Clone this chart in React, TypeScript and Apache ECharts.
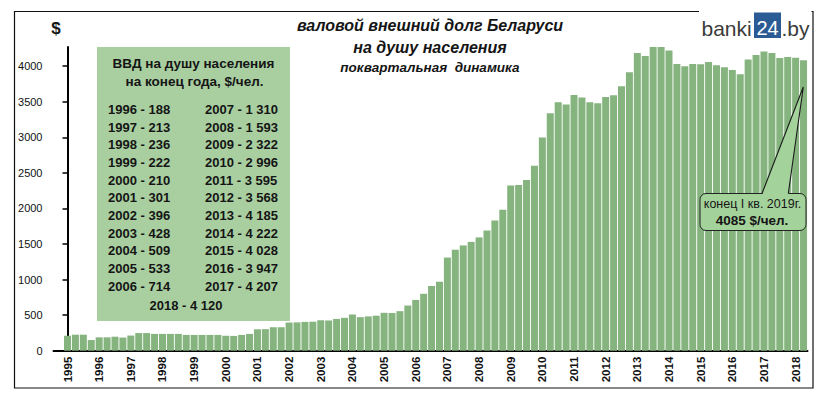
import React, { useEffect, useRef } from 'react';
import * as echarts from 'echarts';

// Year labels on the category positions (each label sits on the Q4 bar of that year)
const yearLabels = [
  '1995', '1996', '1997', '1998', '1999', '2000', '2001', '2002', '2003', '2004', '2005', '2006',
  '2007', '2008', '2009', '2010', '2011', '2012', '2013', '2014', '2015', '2016', '2017', '2018',
];

// Gross external debt per capita, $, quarterly from 1995 Q4 to 2019 Q1
const quarterValues = [
  210,
  225, 225, 150, 188,
  188, 197, 185, 213,
  248, 248, 236, 236,
  236, 236, 222, 222,
  222, 222, 222, 210,
  208, 222, 236, 301,
  303, 330, 330, 396,
  398, 405, 408, 428,
  425, 447, 462, 509,
  472, 482, 492, 533,
  530, 556, 635, 714,
  800, 910, 970, 1310,
  1420, 1480, 1530, 1593,
  1690, 1830, 1980, 2322,
  2330, 2400, 2600, 2996,
  3338, 3494, 3461, 3595,
  3560, 3494, 3480, 3568,
  3592, 3718, 3915, 4185,
  4142, 4310, 4285, 4222,
  4030, 4001, 4030, 4028,
  4058, 4015, 3987, 3947,
  3888, 4096, 4157, 4207,
  4185, 4114, 4128, 4120,
  4085,
];

const yTicks = [0, 500, 1000, 1500, 2000, 2500, 3000, 3500, 4000];

const tableYears = [
  1996, 1997, 1998, 1999, 2000, 2001, 2002, 2003, 2004, 2005, 2006,
  2007, 2008, 2009, 2010, 2011, 2012, 2013, 2014, 2015, 2016, 2017,
  2018,
];
const tableValues = [
  188, 213, 236, 222, 210, 301, 396, 428, 509, 533, 714,
  1310, 1593, 2322, 2996, 3595, 3568, 4185, 4222, 4028, 3947, 4207,
  4120,
];

const titleLines = ['валовой внешний долг Беларуси', 'на душу населения', 'поквартальная  динамика'];
const tableHeader = ['ВВД на душу населения', 'на конец года, $/чел.'];
const calloutLines = ['конец I кв. 2019г.', '4085 $/чел.'];

const FONT = '"Liberation Sans", Arial, sans-serif';
const BAR_COLOR = '#86b47f';
const BOX_COLOR = '#a9cfa1';
const CALLOUT_COLOR = '#a3d29b';

function fmt(v: number): string {
  if (v >= 1000) {
    return `${Math.floor(v / 1000)} ${String(v % 1000).padStart(3, '0')}`;
  }
  return String(v);
}

function txt(x: number, y: number, text: string, o: any = {}) {
  const align = o.align || 'center';
  return {
    type: 'text',
    x,
    y,
    z: 20,
    style: {
      text,
      fill: o.fill || '#151515',
      fontFamily: o.fontFamily || FONT,
      fontSize: o.fontSize || 12,
      fontWeight: o.fontWeight || 'normal',
      fontStyle: o.fontStyle || 'normal',
      align,
      textAlign: align,
      verticalAlign: 'middle',
      textVerticalAlign: 'middle',
    },
  };
}

export default function App() {
  const ref = useRef<HTMLDivElement>(null);

  useEffect(() => {
    if (!ref.current) return;
    const chart = echarts.init(ref.current, undefined, { renderer: 'svg' });

    const graphics: any[] = [];
    // outer frame
    graphics.push({
      type: 'rect',
      z: 1,
      shape: { x: 14.5, y: 11.5, width: 798.5, height: 376.5 },
      style: { fill: 'none', stroke: '#111', lineWidth: 1.2 },
    });
    // titles
    graphics.push(txt(430, 25.5, titleLines[0], { fontSize: 16, fontWeight: 'bold', fontStyle: 'italic' }));
    graphics.push(txt(430, 47.5, titleLines[1], { fontSize: 16, fontWeight: 'bold', fontStyle: 'italic' }));
    graphics.push(txt(430, 67.5, titleLines[2], { fontSize: 13.5, fontWeight: 'bold', fontStyle: 'italic' }));
    // $ axis caption
    graphics.push(txt(56, 28.5, '$', { fontSize: 17, fontWeight: 'bold' }));

    // table box
    graphics.push({
      type: 'rect',
      z: 15,
      shape: { x: 97, y: 47, width: 193, height: 274 },
      style: { fill: BOX_COLOR },
    });
    graphics.push(txt(193.5, 63.5, tableHeader[0], { fontSize: 13.5, fontWeight: 'bold' }));
    graphics.push(txt(194.5, 81, tableHeader[1], { fontSize: 13.5, fontWeight: 'bold' }));
    const half = 11;
    for (let i = 0; i < half; i++) {
      const y = 109.3 + i * 17.7;
      graphics.push(txt(108, y, `${tableYears[i]} - ${fmt(tableValues[i])}`, { fontSize: 13, fontWeight: 'bold', align: 'left' }));
      graphics.push(txt(205, y, `${tableYears[i + half]} - ${fmt(tableValues[i + half])}`, { fontSize: 13, fontWeight: 'bold', align: 'left' }));
    }
    const last = tableYears.length - 1;
    graphics.push(txt(186, 305.8, `${tableYears[last]} - ${fmt(tableValues[last])}`, { fontSize: 13, fontWeight: 'bold' }));

    // callout
    graphics.push({
      type: 'rect',
      z: 15,
      shape: { x: 700, y: 193.5, width: 106, height: 37, r: 6 },
      style: { fill: CALLOUT_COLOR, stroke: '#222', lineWidth: 1 },
    });
    graphics.push({
      type: 'polygon',
      z: 16,
      shape: { points: [[762, 195], [803.3, 87], [788.3, 195]] },
      style: { fill: CALLOUT_COLOR },
    });
    graphics.push({
      type: 'polyline',
      z: 17,
      shape: { points: [[762, 193.5], [803.3, 87], [788.3, 193.5]] },
      style: { fill: 'none', stroke: '#1a1a1a', lineWidth: 1.1 },
    });
    graphics.push(txt(752.5, 203.5, calloutLines[0], { fontSize: 12.5, fontWeight: 'normal' }));
    graphics.push(txt(752, 220, calloutLines[1], { fontSize: 13.5, fontWeight: 'bold' }));

    // logo
    graphics.push({
      type: 'rect',
      z: 18,
      shape: { x: 699, y: 3, width: 112.5, height: 40 },
      style: { fill: '#ffffff' },
    });
    graphics.push({
      type: 'rect',
      z: 19,
      shape: { x: 754, y: 12.5, width: 27, height: 25.5 },
      style: { fill: '#2b5b94' },
    });
    graphics.push(txt(701.5, 28.5, 'banki', { fontSize: 21, fill: '#3a3a3a', align: 'left' }));
    graphics.push(txt(767.5, 27.5, '24', { fontSize: 20, fill: '#ffffff' }));
    graphics.push(txt(781.5, 28.5, '.by', { fontSize: 21, fill: '#3a3a3a', align: 'left' }));

    chart.setOption({
      animation: false,
      backgroundColor: '#ffffff',
      grid: { left: 53.5, right: 16.5, top: 47, bottom: 46.3 },
      xAxis: {
        type: 'value',
        min: -1.77,
        max: 93.5,
        splitLine: { show: false },
        axisTick: { show: false },
        axisLine: { show: true, onZero: true, lineStyle: { color: '#000', width: 2 } },
        axisLabel: {
          customValues: yearLabels.map((_, k) => k * 4),
          formatter: (v: number) => yearLabels[Math.round(v / 4)] || '',
          rotate: 90,
          margin: 6,
          fontFamily: FONT,
          fontSize: 11.5,
          fontWeight: 'bold',
          color: '#111',
        },
      },
      yAxis: {
        type: 'value',
        min: 0,
        max: 4270,
        splitLine: { show: false },
        axisLine: { show: true, lineStyle: { color: '#000', width: 2 } },
        axisTick: {
          show: true,
          length: 5,
          customValues: yTicks,
          lineStyle: { color: '#000', width: 1.5 },
        },
        axisLabel: {
          customValues: yTicks,
          formatter: (v: number) => String(v),
          margin: 11,
          fontFamily: FONT,
          fontSize: 11,
          color: '#111',
        },
      },
      series: [
        {
          type: 'bar',
          data: quarterValues.map((v, i) => [i, v]),
          barWidth: 7,
          itemStyle: { color: BAR_COLOR },
          z: 2,
        },
      ],
      graphic: graphics,
    });

    return () => chart.dispose();
  }, []);

  return (
    <div
      ref={ref}
      style={{ position: 'absolute', left: 0, top: 0, width: 824, height: 397 }}
    />
  );
}
